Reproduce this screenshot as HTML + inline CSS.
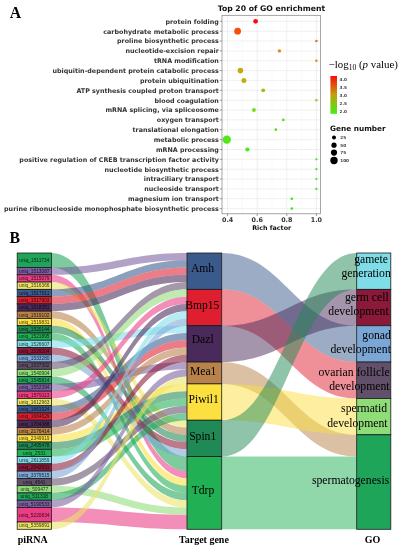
<!DOCTYPE html>
<html><head><meta charset="utf-8"><title>Figure</title><style>
html,body{margin:0;padding:0;background:#fff}
svg{display:block}
text{font-family:"Liberation Serif",serif}
.pl{font-family:"Liberation Sans",sans-serif;font-size:4.8px;fill:#000;fill-opacity:.8}
.gl{font-size:11.6px;fill:#000}
.go{font-size:11.7px;fill:#000}
.ax{font-size:10px;font-weight:bold;fill:#000}
.pn{font-size:15.8px;font-weight:bold;fill:#000}
.tl{font-family:"DejaVu Sans","Liberation Sans",sans-serif;font-weight:bold;font-size:6.37px;fill:#333}
.tt{font-family:"DejaVu Sans","Liberation Sans",sans-serif;font-weight:bold;font-size:7.7px;fill:#111}
.gn{font-family:"DejaVu Sans","Liberation Sans",sans-serif;font-weight:bold;font-size:7.34px;fill:#111}
.cl{font-family:"DejaVu Sans","Liberation Sans",sans-serif;font-weight:bold;font-size:4.2px;fill:#404040}
.lg{font-size:10.9px;fill:#000}
</style></head>
<body><svg width="399" height="550" viewBox="0 0 399 550">
<rect width="399" height="550" fill="#fff"/>
<g id="panelA">
<rect x="222.0" y="15.3" width="98.5" height="198.5" fill="#fff"/>
<line x1="242.4" x2="242.4" y1="15.3" y2="213.8" stroke="#f2f2f2" stroke-width="0.4"/>
<line x1="272.0" x2="272.0" y1="15.3" y2="213.8" stroke="#f2f2f2" stroke-width="0.4"/>
<line x1="301.6" x2="301.6" y1="15.3" y2="213.8" stroke="#f2f2f2" stroke-width="0.4"/>
<line x1="227.6" x2="227.6" y1="15.3" y2="213.8" stroke="#e6e6e6" stroke-width="0.6"/>
<line x1="257.2" x2="257.2" y1="15.3" y2="213.8" stroke="#e6e6e6" stroke-width="0.6"/>
<line x1="286.8" x2="286.8" y1="15.3" y2="213.8" stroke="#e6e6e6" stroke-width="0.6"/>
<line x1="316.4" x2="316.4" y1="15.3" y2="213.8" stroke="#e6e6e6" stroke-width="0.6"/>
<line x1="222.0" x2="320.5" y1="21.3" y2="21.3" stroke="#e6e6e6" stroke-width="0.6"/>
<line x1="222.0" x2="320.5" y1="31.2" y2="31.2" stroke="#e6e6e6" stroke-width="0.6"/>
<line x1="222.0" x2="320.5" y1="41.0" y2="41.0" stroke="#e6e6e6" stroke-width="0.6"/>
<line x1="222.0" x2="320.5" y1="50.9" y2="50.9" stroke="#e6e6e6" stroke-width="0.6"/>
<line x1="222.0" x2="320.5" y1="60.7" y2="60.7" stroke="#e6e6e6" stroke-width="0.6"/>
<line x1="222.0" x2="320.5" y1="70.6" y2="70.6" stroke="#e6e6e6" stroke-width="0.6"/>
<line x1="222.0" x2="320.5" y1="80.4" y2="80.4" stroke="#e6e6e6" stroke-width="0.6"/>
<line x1="222.0" x2="320.5" y1="90.3" y2="90.3" stroke="#e6e6e6" stroke-width="0.6"/>
<line x1="222.0" x2="320.5" y1="100.2" y2="100.2" stroke="#e6e6e6" stroke-width="0.6"/>
<line x1="222.0" x2="320.5" y1="110.0" y2="110.0" stroke="#e6e6e6" stroke-width="0.6"/>
<line x1="222.0" x2="320.5" y1="119.9" y2="119.9" stroke="#e6e6e6" stroke-width="0.6"/>
<line x1="222.0" x2="320.5" y1="129.7" y2="129.7" stroke="#e6e6e6" stroke-width="0.6"/>
<line x1="222.0" x2="320.5" y1="139.6" y2="139.6" stroke="#e6e6e6" stroke-width="0.6"/>
<line x1="222.0" x2="320.5" y1="149.5" y2="149.5" stroke="#e6e6e6" stroke-width="0.6"/>
<line x1="222.0" x2="320.5" y1="159.3" y2="159.3" stroke="#e6e6e6" stroke-width="0.6"/>
<line x1="222.0" x2="320.5" y1="169.2" y2="169.2" stroke="#e6e6e6" stroke-width="0.6"/>
<line x1="222.0" x2="320.5" y1="179.0" y2="179.0" stroke="#e6e6e6" stroke-width="0.6"/>
<line x1="222.0" x2="320.5" y1="188.9" y2="188.9" stroke="#e6e6e6" stroke-width="0.6"/>
<line x1="222.0" x2="320.5" y1="198.7" y2="198.7" stroke="#e6e6e6" stroke-width="0.6"/>
<line x1="222.0" x2="320.5" y1="208.6" y2="208.6" stroke="#e6e6e6" stroke-width="0.6"/>
<circle cx="255.6" cy="21.3" r="2.4" fill="#FA0F0F"/>
<circle cx="237.6" cy="31.2" r="3.4" fill="#F8500A"/>
<circle cx="316.4" cy="41.0" r="1.3" fill="#E8780A"/>
<circle cx="279.4" cy="50.9" r="1.7" fill="#E08A10"/>
<circle cx="316.4" cy="60.7" r="1.3" fill="#C8A010"/>
<circle cx="240.4" cy="70.6" r="2.8" fill="#C8AA10"/>
<circle cx="243.9" cy="80.4" r="2.5" fill="#BDB010"/>
<circle cx="263.2" cy="90.3" r="1.9" fill="#A4BC14"/>
<circle cx="316.4" cy="100.2" r="1.2" fill="#98CC1C"/>
<circle cx="253.9" cy="110.0" r="1.9" fill="#6CE018"/>
<circle cx="283.3" cy="119.9" r="1.4" fill="#50E810"/>
<circle cx="275.8" cy="129.7" r="1.4" fill="#5CE410"/>
<circle cx="226.8" cy="139.6" r="4.2" fill="#50E818"/>
<circle cx="247.4" cy="149.5" r="2.1" fill="#40EE10"/>
<circle cx="316.4" cy="159.3" r="1.1" fill="#30F010"/>
<circle cx="316.4" cy="169.2" r="1.1" fill="#30F010"/>
<circle cx="316.4" cy="179.0" r="1.1" fill="#30F010"/>
<circle cx="316.4" cy="188.9" r="1.1" fill="#30F010"/>
<circle cx="291.8" cy="198.7" r="1.3" fill="#30F010"/>
<circle cx="291.8" cy="208.6" r="1.3" fill="#30F010"/>
<rect x="222.0" y="15.3" width="98.5" height="198.5" fill="none" stroke="#808080" stroke-width="0.7"/>
<line x1="219.7" x2="222.0" y1="21.3" y2="21.3" stroke="#444" stroke-width="0.5"/>
<text x="218.9" y="23.6" class="tl" text-anchor="end">protein folding</text>
<line x1="219.7" x2="222.0" y1="31.2" y2="31.2" stroke="#444" stroke-width="0.5"/>
<text x="218.9" y="33.5" class="tl" text-anchor="end">carbohydrate metabolic process</text>
<line x1="219.7" x2="222.0" y1="41.0" y2="41.0" stroke="#444" stroke-width="0.5"/>
<text x="218.9" y="43.3" class="tl" text-anchor="end">proline biosynthetic process</text>
<line x1="219.7" x2="222.0" y1="50.9" y2="50.9" stroke="#444" stroke-width="0.5"/>
<text x="218.9" y="53.2" class="tl" text-anchor="end">nucleotide-excision repair</text>
<line x1="219.7" x2="222.0" y1="60.7" y2="60.7" stroke="#444" stroke-width="0.5"/>
<text x="218.9" y="63.0" class="tl" text-anchor="end">tRNA modification</text>
<line x1="219.7" x2="222.0" y1="70.6" y2="70.6" stroke="#444" stroke-width="0.5"/>
<text x="218.9" y="72.9" class="tl" text-anchor="end">ubiquitin-dependent protein catabolic process</text>
<line x1="219.7" x2="222.0" y1="80.4" y2="80.4" stroke="#444" stroke-width="0.5"/>
<text x="218.9" y="82.7" class="tl" text-anchor="end">protein ubiquitination</text>
<line x1="219.7" x2="222.0" y1="90.3" y2="90.3" stroke="#444" stroke-width="0.5"/>
<text x="218.9" y="92.6" class="tl" text-anchor="end">ATP synthesis coupled proton transport</text>
<line x1="219.7" x2="222.0" y1="100.2" y2="100.2" stroke="#444" stroke-width="0.5"/>
<text x="218.9" y="102.5" class="tl" text-anchor="end">blood coagulation</text>
<line x1="219.7" x2="222.0" y1="110.0" y2="110.0" stroke="#444" stroke-width="0.5"/>
<text x="218.9" y="112.3" class="tl" text-anchor="end">mRNA splicing, via spliceosome</text>
<line x1="219.7" x2="222.0" y1="119.9" y2="119.9" stroke="#444" stroke-width="0.5"/>
<text x="218.9" y="122.2" class="tl" text-anchor="end">oxygen transport</text>
<line x1="219.7" x2="222.0" y1="129.7" y2="129.7" stroke="#444" stroke-width="0.5"/>
<text x="218.9" y="132.0" class="tl" text-anchor="end">translational elongation</text>
<line x1="219.7" x2="222.0" y1="139.6" y2="139.6" stroke="#444" stroke-width="0.5"/>
<text x="218.9" y="141.9" class="tl" text-anchor="end">metabolic process</text>
<line x1="219.7" x2="222.0" y1="149.5" y2="149.5" stroke="#444" stroke-width="0.5"/>
<text x="218.9" y="151.8" class="tl" text-anchor="end">mRNA processing</text>
<line x1="219.7" x2="222.0" y1="159.3" y2="159.3" stroke="#444" stroke-width="0.5"/>
<text x="218.9" y="161.6" class="tl" text-anchor="end">positive regulation of CREB transcription factor activity</text>
<line x1="219.7" x2="222.0" y1="169.2" y2="169.2" stroke="#444" stroke-width="0.5"/>
<text x="218.9" y="171.5" class="tl" text-anchor="end">nucleotide biosynthetic process</text>
<line x1="219.7" x2="222.0" y1="179.0" y2="179.0" stroke="#444" stroke-width="0.5"/>
<text x="218.9" y="181.3" class="tl" text-anchor="end">intraciliary transport</text>
<line x1="219.7" x2="222.0" y1="188.9" y2="188.9" stroke="#444" stroke-width="0.5"/>
<text x="218.9" y="191.2" class="tl" text-anchor="end">nucleoside transport</text>
<line x1="219.7" x2="222.0" y1="198.7" y2="198.7" stroke="#444" stroke-width="0.5"/>
<text x="218.9" y="201.0" class="tl" text-anchor="end">magnesium ion transport</text>
<line x1="219.7" x2="222.0" y1="208.6" y2="208.6" stroke="#444" stroke-width="0.5"/>
<text x="218.9" y="210.9" class="tl" text-anchor="end">purine ribonucleoside monophosphate biosynthetic process</text>
<line x1="227.6" x2="227.6" y1="213.8" y2="216.10000000000002" stroke="#444" stroke-width="0.5"/>
<text x="227.6" y="222.0" class="tl" text-anchor="middle">0.4</text>
<line x1="257.2" x2="257.2" y1="213.8" y2="216.10000000000002" stroke="#444" stroke-width="0.5"/>
<text x="257.2" y="222.0" class="tl" text-anchor="middle">0.6</text>
<line x1="286.8" x2="286.8" y1="213.8" y2="216.10000000000002" stroke="#444" stroke-width="0.5"/>
<text x="286.8" y="222.0" class="tl" text-anchor="middle">0.8</text>
<line x1="316.4" x2="316.4" y1="213.8" y2="216.10000000000002" stroke="#444" stroke-width="0.5"/>
<text x="316.4" y="222.0" class="tl" text-anchor="middle">1.0</text>
<text x="271.7" y="229.6" class="tl" text-anchor="middle" style="fill:#111">Rich factor</text>
<text x="271.4" y="10.5" class="tt" text-anchor="middle">Top 20 of GO enrichment</text>
<text x="328.6" y="68.3" class="lg">−log<tspan dy="2" font-size="7.6">10</tspan><tspan dy="-2"> (</tspan><tspan font-style="italic">p</tspan> value)</text>
<defs><linearGradient id="cb" x1="0" y1="0" x2="0" y2="1"><stop offset="0" stop-color="#FF0A0A"/><stop offset="0.5" stop-color="#C0A010"/><stop offset="1" stop-color="#40F010"/></linearGradient></defs>
<rect x="330.4" y="76" width="6.6" height="37.8" fill="url(#cb)"/>
<text x="339.6" y="80.5" class="cl">4.0</text>
<text x="339.6" y="88.5" class="cl">3.5</text>
<text x="339.6" y="96.7" class="cl">3.0</text>
<text x="339.6" y="104.8" class="cl">2.5</text>
<text x="339.6" y="112.8" class="cl">2.0</text>
<text x="330" y="131.3" class="gn">Gene number</text>
<circle cx="334" cy="137.5" r="2.0" fill="#000"/>
<text x="340.3" y="139.0" class="cl">25</text>
<circle cx="334" cy="145.2" r="2.6" fill="#000"/>
<text x="340.3" y="146.7" class="cl">50</text>
<circle cx="334" cy="152.6" r="3.1" fill="#000"/>
<text x="340.3" y="154.1" class="cl">75</text>
<circle cx="334" cy="160.5" r="3.7" fill="#000"/>
<text x="340.3" y="162.0" class="cl">100</text>
</g>
<g id="panelB">
<path d="M51.4,253.00C112.4,253.00 126.0,456.59 187.0,456.59V471.13C126.0,471.13 112.4,267.54 51.4,267.54Z" fill="#1FA55A" fill-opacity="0.58"/>
<path d="M51.4,267.54C112.4,267.54 126.0,253.00 187.0,253.00V260.27C126.0,260.27 112.4,274.81 51.4,274.81Z" fill="#7B5EA0" fill-opacity="0.58"/>
<path d="M51.4,274.81C112.4,274.81 126.0,471.13 187.0,471.13V478.40C126.0,478.40 112.4,282.08 51.4,282.08Z" fill="#EB3C86" fill-opacity="0.58"/>
<path d="M51.4,282.08C112.4,282.08 126.0,420.23 187.0,420.23V427.51C126.0,427.51 112.4,289.36 51.4,289.36Z" fill="#EAE366" fill-opacity="0.58"/>
<path d="M51.4,289.36C112.4,289.36 126.0,260.27 187.0,260.27V267.54C126.0,267.54 112.4,296.63 51.4,296.63Z" fill="#3A5A8C" fill-opacity="0.58"/>
<path d="M51.4,296.63C112.4,296.63 126.0,267.54 187.0,267.54V274.81C126.0,274.81 112.4,303.90 51.4,303.90Z" fill="#DF1F2F" fill-opacity="0.58"/>
<path d="M51.4,303.90C112.4,303.90 126.0,274.81 187.0,274.81V282.08C126.0,282.08 112.4,311.17 51.4,311.17Z" fill="#4A2A5A" fill-opacity="0.58"/>
<path d="M51.4,311.17C112.4,311.17 126.0,427.51 187.0,427.51V434.78C126.0,434.78 112.4,318.44 51.4,318.44Z" fill="#B8824A" fill-opacity="0.58"/>
<path d="M51.4,318.44C112.4,318.44 126.0,478.40 187.0,478.40V485.67C126.0,485.67 112.4,325.71 51.4,325.71Z" fill="#FCE040" fill-opacity="0.58"/>
<path d="M51.4,325.71C112.4,325.71 126.0,434.78 187.0,434.78V442.05C126.0,442.05 112.4,332.98 51.4,332.98Z" fill="#1F8A55" fill-opacity="0.58"/>
<path d="M51.4,332.98C112.4,332.98 126.0,485.67 187.0,485.67V492.94C126.0,492.94 112.4,340.25 51.4,340.25Z" fill="#22B055" fill-opacity="0.58"/>
<path d="M51.4,340.25C112.4,340.25 126.0,325.71 187.0,325.71V332.98C126.0,332.98 112.4,347.52 51.4,347.52Z" fill="#7FDDE8" fill-opacity="0.58"/>
<path d="M51.4,347.52C112.4,347.52 126.0,442.05 187.0,442.05V449.32C126.0,449.32 112.4,354.79 51.4,354.79Z" fill="#8B1A3A" fill-opacity="0.58"/>
<path d="M51.4,354.79C112.4,354.79 126.0,449.32 187.0,449.32V456.59C126.0,456.59 112.4,362.07 51.4,362.07Z" fill="#7BA7D7" fill-opacity="0.58"/>
<path d="M51.4,362.07C112.4,362.07 126.0,282.08 187.0,282.08V289.36C126.0,289.36 112.4,369.34 51.4,369.34Z" fill="#62506A" fill-opacity="0.58"/>
<path d="M51.4,369.34C112.4,369.34 126.0,289.36 187.0,289.36V296.63C126.0,296.63 112.4,376.61 51.4,376.61Z" fill="#90DC78" fill-opacity="0.58"/>
<path d="M51.4,376.61C112.4,376.61 126.0,492.94 187.0,492.94V500.22C126.0,500.22 112.4,383.88 51.4,383.88Z" fill="#1FA55A" fill-opacity="0.58"/>
<path d="M51.4,383.88C112.4,383.88 126.0,362.07 187.0,362.07V369.34C126.0,369.34 112.4,391.15 51.4,391.15Z" fill="#7B5EA0" fill-opacity="0.58"/>
<path d="M51.4,391.15C112.4,391.15 126.0,296.63 187.0,296.63V303.90C126.0,303.90 112.4,398.42 51.4,398.42Z" fill="#EB3C86" fill-opacity="0.58"/>
<path d="M51.4,398.42C112.4,398.42 126.0,500.22 187.0,500.22V507.49C126.0,507.49 112.4,405.69 51.4,405.69Z" fill="#EAE366" fill-opacity="0.58"/>
<path d="M51.4,405.69C112.4,405.69 126.0,332.98 187.0,332.98V340.25C126.0,340.25 112.4,412.96 51.4,412.96Z" fill="#3A5A8C" fill-opacity="0.58"/>
<path d="M51.4,412.96C112.4,412.96 126.0,340.25 187.0,340.25V347.52C126.0,347.52 112.4,420.23 51.4,420.23Z" fill="#DF1F2F" fill-opacity="0.58"/>
<path d="M51.4,420.23C112.4,420.23 126.0,303.90 187.0,303.90V311.17C126.0,311.17 112.4,427.51 51.4,427.51Z" fill="#4A2A5A" fill-opacity="0.58"/>
<path d="M51.4,427.51C112.4,427.51 126.0,347.52 187.0,347.52V354.79C126.0,354.79 112.4,434.78 51.4,434.78Z" fill="#B8824A" fill-opacity="0.58"/>
<path d="M51.4,434.78C112.4,434.78 126.0,383.88 187.0,383.88V391.15C126.0,391.15 112.4,442.05 51.4,442.05Z" fill="#FCE040" fill-opacity="0.58"/>
<path d="M51.4,442.05C112.4,442.05 126.0,391.15 187.0,391.15V398.42C126.0,398.42 112.4,449.32 51.4,449.32Z" fill="#1F8A55" fill-opacity="0.58"/>
<path d="M51.4,449.32C112.4,449.32 126.0,398.42 187.0,398.42V405.69C126.0,405.69 112.4,456.59 51.4,456.59Z" fill="#22B055" fill-opacity="0.58"/>
<path d="M51.4,456.59C112.4,456.59 126.0,311.17 187.0,311.17V318.44C126.0,318.44 112.4,463.86 51.4,463.86Z" fill="#7FDDE8" fill-opacity="0.58"/>
<path d="M51.4,463.86C112.4,463.86 126.0,354.79 187.0,354.79V362.07C126.0,362.07 112.4,471.13 51.4,471.13Z" fill="#8B1A3A" fill-opacity="0.58"/>
<path d="M51.4,471.13C112.4,471.13 126.0,318.44 187.0,318.44V325.71C126.0,325.71 112.4,478.40 51.4,478.40Z" fill="#7BA7D7" fill-opacity="0.58"/>
<path d="M51.4,478.40C112.4,478.40 126.0,405.69 187.0,405.69V412.96C126.0,412.96 112.4,485.67 51.4,485.67Z" fill="#62506A" fill-opacity="0.58"/>
<path d="M51.4,485.67C112.4,485.67 126.0,507.49 187.0,507.49V514.76C126.0,514.76 112.4,492.94 51.4,492.94Z" fill="#90DC78" fill-opacity="0.58"/>
<path d="M51.4,492.94C112.4,492.94 126.0,412.96 187.0,412.96V420.23C126.0,420.23 112.4,500.22 51.4,500.22Z" fill="#1FA55A" fill-opacity="0.58"/>
<path d="M51.4,500.22C112.4,500.22 126.0,369.34 187.0,369.34V376.61C126.0,376.61 112.4,507.49 51.4,507.49Z" fill="#7B5EA0" fill-opacity="0.58"/>
<path d="M51.4,507.49C112.4,507.49 126.0,514.76 187.0,514.76V529.30C126.0,529.30 112.4,522.03 51.4,522.03Z" fill="#EB3C86" fill-opacity="0.58"/>
<path d="M51.4,522.03C112.4,522.03 126.0,376.61 187.0,376.61V383.88C126.0,383.88 112.4,529.30 51.4,529.30Z" fill="#EAE366" fill-opacity="0.58"/>
<path d="M221.7,253.00C282.4,253.00 295.9,325.71 356.7,325.71V362.07C295.9,362.07 282.4,289.36 221.7,289.36Z" fill="#3A5A8C" fill-opacity="0.5"/>
<path d="M221.7,289.36C282.4,289.36 295.9,362.07 356.7,362.07V398.42C295.9,398.42 282.4,325.71 221.7,325.71Z" fill="#DF1F2F" fill-opacity="0.5"/>
<path d="M221.7,325.71C282.4,325.71 295.9,289.36 356.7,289.36V325.71C295.9,325.71 282.4,362.07 221.7,362.07Z" fill="#4A2A5A" fill-opacity="0.5"/>
<path d="M221.7,362.07C282.4,362.07 295.9,434.78 356.7,434.78V456.59C295.9,456.59 282.4,383.88 221.7,383.88Z" fill="#B8824A" fill-opacity="0.5"/>
<path d="M221.7,383.88C282.4,383.88 295.9,398.42 356.7,398.42V434.78C295.9,434.78 282.4,420.23 221.7,420.23Z" fill="#FCE040" fill-opacity="0.5"/>
<path d="M221.7,420.23C282.4,420.23 295.9,253.00 356.7,253.00V289.36C295.9,289.36 282.4,456.59 221.7,456.59Z" fill="#1F8A55" fill-opacity="0.5"/>
<path d="M221.7,456.59C282.4,456.59 295.9,456.59 356.7,456.59V529.30C295.9,529.30 282.4,529.30 221.7,529.30Z" fill="#22B055" fill-opacity="0.5"/>
<rect x="17.2" y="253.00" width="34.2" height="14.54" fill="#1FA55A" stroke="#1a1a1a" stroke-width="0.8"/>
<rect x="17.2" y="267.54" width="34.2" height="7.27" fill="#7B5EA0" stroke="#1a1a1a" stroke-width="0.8"/>
<rect x="17.2" y="274.81" width="34.2" height="7.27" fill="#EB3C86" stroke="#1a1a1a" stroke-width="0.8"/>
<rect x="17.2" y="282.08" width="34.2" height="7.27" fill="#EAE366" stroke="#1a1a1a" stroke-width="0.8"/>
<rect x="17.2" y="289.36" width="34.2" height="7.27" fill="#3A5A8C" stroke="#1a1a1a" stroke-width="0.8"/>
<rect x="17.2" y="296.63" width="34.2" height="7.27" fill="#DF1F2F" stroke="#1a1a1a" stroke-width="0.8"/>
<rect x="17.2" y="303.90" width="34.2" height="7.27" fill="#4A2A5A" stroke="#1a1a1a" stroke-width="0.8"/>
<rect x="17.2" y="311.17" width="34.2" height="7.27" fill="#B8824A" stroke="#1a1a1a" stroke-width="0.8"/>
<rect x="17.2" y="318.44" width="34.2" height="7.27" fill="#FCE040" stroke="#1a1a1a" stroke-width="0.8"/>
<rect x="17.2" y="325.71" width="34.2" height="7.27" fill="#1F8A55" stroke="#1a1a1a" stroke-width="0.8"/>
<rect x="17.2" y="332.98" width="34.2" height="7.27" fill="#22B055" stroke="#1a1a1a" stroke-width="0.8"/>
<rect x="17.2" y="340.25" width="34.2" height="7.27" fill="#7FDDE8" stroke="#1a1a1a" stroke-width="0.8"/>
<rect x="17.2" y="347.52" width="34.2" height="7.27" fill="#8B1A3A" stroke="#1a1a1a" stroke-width="0.8"/>
<rect x="17.2" y="354.79" width="34.2" height="7.27" fill="#7BA7D7" stroke="#1a1a1a" stroke-width="0.8"/>
<rect x="17.2" y="362.07" width="34.2" height="7.27" fill="#62506A" stroke="#1a1a1a" stroke-width="0.8"/>
<rect x="17.2" y="369.34" width="34.2" height="7.27" fill="#90DC78" stroke="#1a1a1a" stroke-width="0.8"/>
<rect x="17.2" y="376.61" width="34.2" height="7.27" fill="#1FA55A" stroke="#1a1a1a" stroke-width="0.8"/>
<rect x="17.2" y="383.88" width="34.2" height="7.27" fill="#7B5EA0" stroke="#1a1a1a" stroke-width="0.8"/>
<rect x="17.2" y="391.15" width="34.2" height="7.27" fill="#EB3C86" stroke="#1a1a1a" stroke-width="0.8"/>
<rect x="17.2" y="398.42" width="34.2" height="7.27" fill="#EAE366" stroke="#1a1a1a" stroke-width="0.8"/>
<rect x="17.2" y="405.69" width="34.2" height="7.27" fill="#3A5A8C" stroke="#1a1a1a" stroke-width="0.8"/>
<rect x="17.2" y="412.96" width="34.2" height="7.27" fill="#DF1F2F" stroke="#1a1a1a" stroke-width="0.8"/>
<rect x="17.2" y="420.23" width="34.2" height="7.27" fill="#4A2A5A" stroke="#1a1a1a" stroke-width="0.8"/>
<rect x="17.2" y="427.51" width="34.2" height="7.27" fill="#B8824A" stroke="#1a1a1a" stroke-width="0.8"/>
<rect x="17.2" y="434.78" width="34.2" height="7.27" fill="#FCE040" stroke="#1a1a1a" stroke-width="0.8"/>
<rect x="17.2" y="442.05" width="34.2" height="7.27" fill="#1F8A55" stroke="#1a1a1a" stroke-width="0.8"/>
<rect x="17.2" y="449.32" width="34.2" height="7.27" fill="#22B055" stroke="#1a1a1a" stroke-width="0.8"/>
<rect x="17.2" y="456.59" width="34.2" height="7.27" fill="#7FDDE8" stroke="#1a1a1a" stroke-width="0.8"/>
<rect x="17.2" y="463.86" width="34.2" height="7.27" fill="#8B1A3A" stroke="#1a1a1a" stroke-width="0.8"/>
<rect x="17.2" y="471.13" width="34.2" height="7.27" fill="#7BA7D7" stroke="#1a1a1a" stroke-width="0.8"/>
<rect x="17.2" y="478.40" width="34.2" height="7.27" fill="#62506A" stroke="#1a1a1a" stroke-width="0.8"/>
<rect x="17.2" y="485.67" width="34.2" height="7.27" fill="#90DC78" stroke="#1a1a1a" stroke-width="0.8"/>
<rect x="17.2" y="492.94" width="34.2" height="7.27" fill="#1FA55A" stroke="#1a1a1a" stroke-width="0.8"/>
<rect x="17.2" y="500.22" width="34.2" height="7.27" fill="#7B5EA0" stroke="#1a1a1a" stroke-width="0.8"/>
<rect x="17.2" y="507.49" width="34.2" height="14.54" fill="#EB3C86" stroke="#1a1a1a" stroke-width="0.8"/>
<rect x="17.2" y="522.03" width="34.2" height="7.27" fill="#EAE366" stroke="#1a1a1a" stroke-width="0.8"/>
<rect x="187.0" y="253.00" width="34.7" height="36.36" fill="#3A5A8C" stroke="#1a1a1a" stroke-width="0.8"/>
<rect x="187.0" y="289.36" width="34.7" height="36.36" fill="#DF1F2F" stroke="#1a1a1a" stroke-width="0.8"/>
<rect x="187.0" y="325.71" width="34.7" height="36.36" fill="#4A2A5A" stroke="#1a1a1a" stroke-width="0.8"/>
<rect x="187.0" y="362.07" width="34.7" height="21.81" fill="#B8824A" stroke="#1a1a1a" stroke-width="0.8"/>
<rect x="187.0" y="383.88" width="34.7" height="36.36" fill="#FCE040" stroke="#1a1a1a" stroke-width="0.8"/>
<rect x="187.0" y="420.23" width="34.7" height="36.36" fill="#1F8A55" stroke="#1a1a1a" stroke-width="0.8"/>
<rect x="187.0" y="456.59" width="34.7" height="72.71" fill="#22B055" stroke="#1a1a1a" stroke-width="0.8"/>
<rect x="356.7" y="253.00" width="34.1" height="36.36" fill="#7FDDE8" stroke="#1a1a1a" stroke-width="0.8"/>
<rect x="356.7" y="289.36" width="34.1" height="36.36" fill="#8B1A3A" stroke="#1a1a1a" stroke-width="0.8"/>
<rect x="356.7" y="325.71" width="34.1" height="36.36" fill="#7BA7D7" stroke="#1a1a1a" stroke-width="0.8"/>
<rect x="356.7" y="362.07" width="34.1" height="36.36" fill="#62506A" stroke="#1a1a1a" stroke-width="0.8"/>
<rect x="356.7" y="398.42" width="34.1" height="36.36" fill="#90DC78" stroke="#1a1a1a" stroke-width="0.8"/>
<rect x="356.7" y="434.78" width="34.1" height="94.52" fill="#1FA55A" stroke="#1a1a1a" stroke-width="0.8"/>
<text x="34.3" y="262.0" class="pl" text-anchor="middle">uniq_1511734</text>
<text x="34.3" y="272.9" class="pl" text-anchor="middle">uniq_1513087</text>
<text x="34.3" y="280.1" class="pl" text-anchor="middle">uniq_1515079</text>
<text x="34.3" y="287.4" class="pl" text-anchor="middle">uniq_1516366</text>
<text x="34.3" y="294.7" class="pl" text-anchor="middle">uniq_1517011</text>
<text x="34.3" y="302.0" class="pl" text-anchor="middle">uniq_1517903</text>
<text x="34.3" y="309.2" class="pl" text-anchor="middle">uniq_1518351</text>
<text x="34.3" y="316.5" class="pl" text-anchor="middle">uniq_1519102</text>
<text x="34.3" y="323.8" class="pl" text-anchor="middle">uniq_1519831</text>
<text x="34.3" y="331.0" class="pl" text-anchor="middle">uniq_1520144</text>
<text x="34.3" y="338.3" class="pl" text-anchor="middle">uniq_1521895</text>
<text x="34.3" y="345.6" class="pl" text-anchor="middle">uniq_1526607</text>
<text x="34.3" y="352.9" class="pl" text-anchor="middle">uniq_1529204</text>
<text x="34.3" y="360.1" class="pl" text-anchor="middle">uniq_1533280</text>
<text x="34.3" y="367.4" class="pl" text-anchor="middle">uniq_1537302</text>
<text x="34.3" y="374.7" class="pl" text-anchor="middle">uniq_1540904</text>
<text x="34.3" y="381.9" class="pl" text-anchor="middle">uniq_1545814</text>
<text x="34.3" y="389.2" class="pl" text-anchor="middle">uniq_1552394</text>
<text x="34.3" y="396.5" class="pl" text-anchor="middle">uniq_1579113</text>
<text x="34.3" y="403.8" class="pl" text-anchor="middle">uniq_1612963</text>
<text x="34.3" y="411.0" class="pl" text-anchor="middle">uniq_1661924</text>
<text x="34.3" y="418.3" class="pl" text-anchor="middle">uniq_1664629</text>
<text x="34.3" y="425.6" class="pl" text-anchor="middle">uniq_1704388</text>
<text x="34.3" y="432.8" class="pl" text-anchor="middle">uniq_2176414</text>
<text x="34.3" y="440.1" class="pl" text-anchor="middle">uniq_2349919</text>
<text x="34.3" y="447.4" class="pl" text-anchor="middle">uniq_2495478</text>
<text x="34.3" y="454.7" class="pl" text-anchor="middle">uniq_2531</text>
<text x="34.3" y="461.9" class="pl" text-anchor="middle">uniq_2611859</text>
<text x="34.3" y="469.2" class="pl" text-anchor="middle">uniq_2642931</text>
<text x="34.3" y="476.5" class="pl" text-anchor="middle">uniq_3379515</text>
<text x="34.3" y="483.7" class="pl" text-anchor="middle">uniq_4541</text>
<text x="34.3" y="491.0" class="pl" text-anchor="middle">uniq_509477</text>
<text x="34.3" y="498.3" class="pl" text-anchor="middle">uniq_511318</text>
<text x="34.3" y="505.6" class="pl" text-anchor="middle">uniq_5190533</text>
<text x="34.3" y="516.5" class="pl" text-anchor="middle">uniq_5220834</text>
<text x="34.3" y="527.4" class="pl" text-anchor="middle">uniq_5359891</text>
<text x="202.5" y="271.7" class="gl" text-anchor="middle">Amh</text>
<text x="202.3" y="308.6" class="gl" text-anchor="middle">Bmp15</text>
<text x="202.7" y="343.0" class="gl" text-anchor="middle">Dazl</text>
<text x="203.2" y="375.0" class="gl" text-anchor="middle">Mea1</text>
<text x="203.7" y="403.2" class="gl" text-anchor="middle">Piwil1</text>
<text x="202.7" y="439.9" class="gl" text-anchor="middle">Spin1</text>
<text x="203.0" y="494.4" class="gl" text-anchor="middle">Tdrp</text>
<text x="388.0" y="263.0" class="go" text-anchor="end">gamete</text>
<text x="390.8" y="277.3" class="go" text-anchor="end">generation</text>
<text x="388.7" y="301.4" class="go" text-anchor="end">germ cell</text>
<text x="388.7" y="314.7" class="go" text-anchor="end">development</text>
<text x="390.9" y="339.3" class="go" text-anchor="end">gonad</text>
<text x="390.9" y="352.8" class="go" text-anchor="end">development</text>
<text x="389.6" y="375.6" class="go" text-anchor="end">ovarian follicle</text>
<text x="389.6" y="389.6" class="go" text-anchor="end">development</text>
<text x="387.2" y="412.1" class="go" text-anchor="end">spermatid</text>
<text x="387.6" y="426.6" class="go" text-anchor="end">development</text>
<text x="389.2" y="484.1" class="go" text-anchor="end">spermatogenesis</text>
<text x="32.7" y="542.7" class="ax" text-anchor="middle">piRNA</text>
<text x="203.9" y="542.7" class="ax" text-anchor="middle">Target gene</text>
<text x="372.5" y="543.2" class="ax" text-anchor="middle">GO</text>
<text x="9.8" y="17.6" class="pn">A</text>
<text x="9.6" y="243" class="pn">B</text>
</g>
</svg></body></html>
